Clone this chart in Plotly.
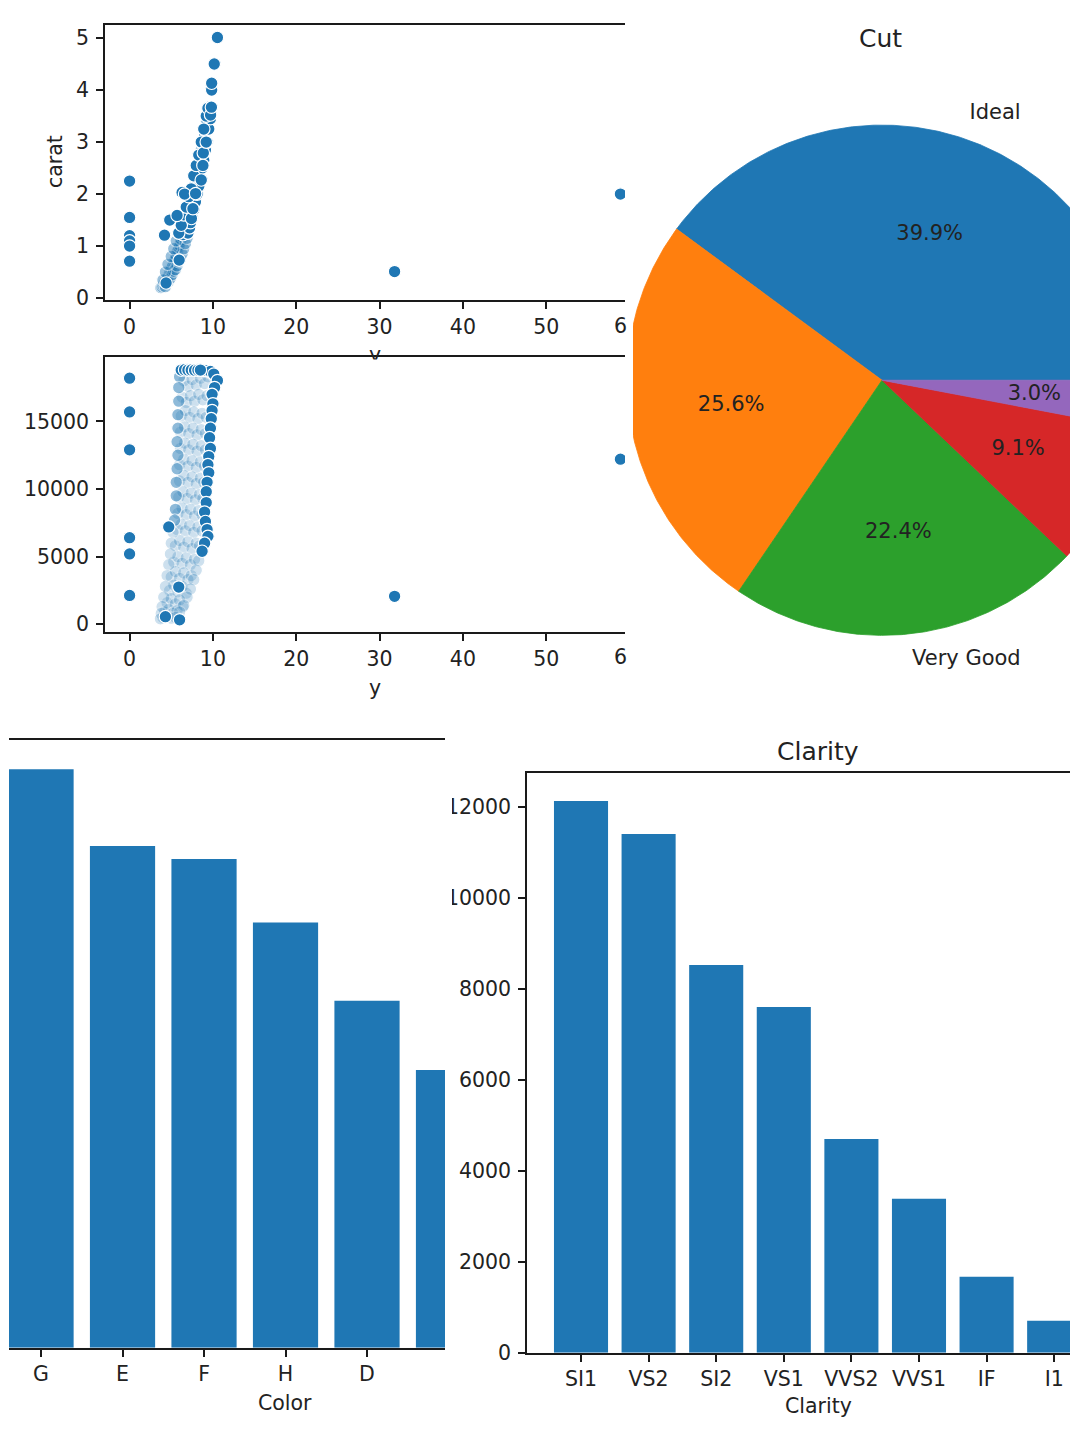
import math
import plotly.graph_objects as go

W, H = 1080, 1440
S = 1.009  # vertical calibration so reference pixel rows land where intended

# ---------------- data ----------------
# scatter 1: y (mm) vs carat -- dense part of the cloud
carat_core_x = [3.75, 3.9, 4.0, 4.1, 4.2, 4.3, 4.4, 4.5, 4.6, 4.7, 4.8, 4.9, 5.0, 5.1, 5.2, 5.3, 5.4, 5.5,
                5.6, 5.7, 5.8, 5.9, 6.0, 6.1, 6.2, 6.3,
                4.3, 4.6, 4.9, 5.1, 5.3, 5.5, 5.7, 5.9, 6.1, 6.3, 6.5, 6.7, 6.9,
                4.0, 4.3, 4.6, 5.0, 5.3, 5.6]
carat_core_v = [0.20, 0.22, 0.25, 0.28, 0.30, 0.32, 0.35, 0.38, 0.41, 0.45, 0.50, 0.53, 0.56, 0.60, 0.64, 0.70,
                0.73, 0.76, 0.82, 0.88, 0.92, 0.98, 1.02, 1.08, 1.12, 1.18,
                0.22, 0.30, 0.38, 0.45, 0.52, 0.55, 0.62, 0.70, 0.75, 0.85, 0.95, 1.05, 1.15,
                0.35, 0.50, 0.65, 0.80, 0.95, 1.10]
# scatter 1: sparser / outlying points
carat_edge_x = [6.4, 6.5, 6.6, 6.7, 6.8, 6.9, 7.0, 7.1, 7.2, 7.3, 7.4, 7.5, 7.6, 7.7, 7.8, 7.9, 8.0, 8.1,
                8.2, 8.3, 8.4, 8.5, 8.6, 8.7, 8.8, 8.9, 9.0, 9.1, 9.2, 9.3, 9.4, 9.5, 9.6,
                7.0, 7.2, 7.3, 7.5, 7.7, 7.9, 8.1, 8.3, 8.5, 8.7, 8.9, 9.1, 9.3, 9.5, 9.7,
                5.9, 6.2, 6.5, 6.8, 7.1, 7.4, 7.7, 8.0, 8.3, 8.6, 8.9, 9.2, 9.4,
                0, 0, 0, 0, 0, 0,
                4.19, 4.82, 5.7, 6.3, 6.6, 7.92, 7.42, 7.6, 8.6, 8.8, 8.85, 9.2, 9.72, 9.82, 9.85, 9.85,
                10.16, 10.54, 4.38, 5.95, 31.8, 58.9]
carat_edge_v = [1.22, 1.28, 1.35, 1.40, 1.48, 1.52, 1.58, 1.65, 1.72, 1.80, 1.85, 1.92, 2.00, 2.08, 2.15, 2.22,
                2.30, 2.38, 2.45, 2.52, 2.62, 2.70, 2.78, 2.88, 2.95, 3.05, 3.15, 3.22, 3.30, 3.40, 3.50, 3.60, 3.68,
                1.25, 1.35, 1.45, 1.55, 1.70, 1.85, 2.00, 2.15, 2.30, 2.50, 2.65, 2.85, 3.00, 3.25, 3.45,
                1.25, 1.40, 1.60, 1.75, 1.95, 2.10, 2.35, 2.55, 2.75, 3.00, 3.25, 3.50, 3.65,
                2.25, 1.55, 1.2, 1.1, 1.0, 0.71,
                1.21, 1.50, 1.59, 2.03, 2.00, 2.01, 1.53, 1.72, 2.27, 2.55, 2.79, 3.00, 3.52, 3.67, 4.00, 4.13,
                4.50, 5.01, 0.29, 0.73, 0.51, 2.00]

# scatter 2: y (mm) vs price -- dense part of the cloud
price_core_x = [6.5, 7.0, 7.5, 8.0, 8.5, 9.0, 9.4,
                6.3, 6.8, 7.3, 7.8, 8.3, 8.8, 9.3,
                6.2, 6.7, 7.2, 7.7, 8.2, 8.7, 9.2,
                6.1, 6.6, 7.1, 7.6, 8.1, 8.6, 9.1,
                6.1, 6.6, 7.1, 7.6, 8.1, 8.6, 9.1,
                6.0, 6.5, 7.0, 7.5, 8.0, 8.5, 9.0,
                6.0, 6.5, 7.0, 7.5, 8.0, 8.5, 8.9,
                5.9, 6.4, 6.9, 7.4, 7.9, 8.4, 8.8,
                5.8, 6.3, 6.8, 7.3, 7.8, 8.3, 8.7,
                5.7, 6.2, 6.7, 7.2, 7.7, 8.2, 8.7,
                5.5, 6.0, 6.5, 7.0, 7.5, 8.0, 8.4,
                5.3, 5.8, 6.3, 6.8, 7.3, 7.8,
                5.0, 5.5, 6.0, 6.5, 7.0, 7.4,
                4.8, 5.3, 5.8, 6.3, 6.8,
                4.5, 5.0, 5.5, 6.0, 6.4,
                4.2, 4.7, 5.2, 5.7,
                4.0, 4.5, 5.0,
                5.2, 5.0, 4.9, 4.7, 4.5, 4.3, 4.1, 3.9, 3.8, 3.7,
                8.3, 8.0, 7.7, 7.3, 6.9, 6.5, 6.0, 5.5]
price_core_v = [18000, 17600, 18100, 17700, 18200, 17800, 18300,
                16800, 16400, 16900, 16500, 17000, 16600, 16900,
                15400, 15800, 15300, 15700, 15200, 15600, 15300,
                14200, 14600, 14100, 14500, 14000, 14400, 14100,
                13000, 13400, 12900, 13300, 12800, 13200, 12900,
                11800, 12200, 11700, 12100, 11600, 12000, 11700,
                10600, 11000, 10500, 10900, 10400, 10800, 10500,
                9400, 9800, 9300, 9700, 9200, 9600, 9300,
                8200, 8600, 8100, 8500, 8000, 8400, 8100,
                7000, 7400, 6900, 7300, 6800, 7200, 6900,
                5800, 6200, 5700, 6100, 5600, 6000, 5800,
                4600, 5000, 4500, 4900, 4400, 4800,
                3500, 3900, 3400, 3800, 3300, 3600,
                2500, 2900, 2400, 2800, 2300,
                1600, 1900, 1500, 1800, 1300,
                900, 1100, 800, 1000,
                500, 600, 450,
                6800, 6000, 5200, 4400, 3600, 2800, 2000, 1300, 800, 400,
                4700, 4000, 3300, 2600, 2000, 1400, 900, 500]
# scatter 2: left outline of the cloud (partly overdrawn in the original)
price_left_x = [6.0, 5.9, 5.9, 5.8, 5.8, 5.7, 5.8, 5.7, 5.6, 5.6, 5.5, 5.4]
price_left_v = [18300, 17500, 16500, 15500, 14500, 13500, 12500, 11500, 10500, 9500, 8500, 7700]
# scatter 2: top / right outline and outlying points
price_edge_x = [6.2, 6.6, 7.0, 7.4, 7.8, 8.2, 8.9, 9.3, 9.7, 10.1, 10.54,
                10.2, 9.9, 10.0, 9.9, 9.8, 9.7, 9.6, 9.7, 9.5, 9.4, 9.5, 9.3, 9.2, 9.2, 9.0, 9.1, 9.3, 9.4,
                9.0, 8.7,
                0, 0, 0, 0, 0, 0, 31.8, 58.9, 4.3, 6.0, 5.9, 4.7, 8.5]
price_edge_v = [18800, 18820, 18800, 18810, 18790, 18800, 18780, 18760, 18700, 18500, 18020,
                17500, 17000, 16300, 15800, 15200, 14500, 13800, 13000, 12400, 11800, 11200, 10500, 9800,
                9000, 8300, 7600, 7000, 6500, 6000, 5400,
                18200, 15700, 12900, 6400, 5200, 2130, 2070, 12210, 560, 330, 2750, 7200, 18800]

cut_labels = ["Ideal", "Premium", "Very Good", "Good", "Fair"]
cut_counts = [20000, 12830, 11230, 4560, 1500]
cut_colors = ["#1f77b4", "#ff7f0e", "#2ca02c", "#d62728", "#9467bd"]

color_cats = ["G", "E", "F", "H", "D", "I"]
color_counts = [10494, 9105, 8868, 7717, 6296, 5039]

clarity_cats = ["SI1", "VS2", "SI2", "VS1", "VVS2", "VVS1", "IF", "I1"]
clarity_counts = [12132, 11407, 8527, 7604, 4703, 3385, 1670, 703]

scatter_ticks_x = [0, 10, 20, 30, 40, 50]
carat_ticks = [0, 1, 2, 3, 4, 5]
price_ticks = [0, 5000, 10000, 15000]
clarity_ticks = [0, 2000, 4000, 6000, 8000, 10000, 12000]

# ---------------- helpers ----------------
BLUE = "#1f77b4"
INK = "#222222"
LINE = "#1a1a1a"
FONT = "DejaVu Sans"
TICK = 20.5


def fx(p):
    return p / W


def fy(p):
    return 1 - p * S / H


axis_style = dict(showline=True, linecolor=LINE, linewidth=1.5, ticks="outside", ticklen=7,
                  tickwidth=1.5, tickcolor=LINE, showgrid=False, zeroline=False,
                  tickfont=dict(family=FONT, size=TICK, color=INK), tickformat="d")

fig = go.Figure()

# scatter panels (dense part lighter, as heavy overplotting looks in the original)
CORE_ALPHA_C, CORE_ALPHA_P, LEFT_ALPHA_P = 0.45, 0.22, 0.5
cx_all = carat_core_x + carat_edge_x
cv_all = carat_core_v + carat_edge_v
c_op = [CORE_ALPHA_C] * len(carat_core_x) + [1.0] * len(carat_edge_x)
px_all = price_core_x + price_left_x + price_edge_x
pv_all = price_core_v + price_left_v + price_edge_v
p_op = ([CORE_ALPHA_P] * len(price_core_x) + [LEFT_ALPHA_P] * len(price_left_x)
        + [1.0] * len(price_edge_x))

fig.add_trace(go.Scatter(x=cx_all, y=cv_all, mode="markers",
                         marker=dict(size=12.5, color=BLUE, opacity=c_op, line=dict(color="white", width=1.2)),
                         xaxis="x", yaxis="y", showlegend=False, hoverinfo="skip"))
fig.add_trace(go.Scatter(x=px_all, y=pv_all, mode="markers",
                         marker=dict(size=12.5, color=BLUE, opacity=p_op, line=dict(color="white", width=1.2)),
                         xaxis="x2", yaxis="y2", showlegend=False, hoverinfo="skip"))

# pie (slices drawn in a clipped subplot so the crop of the original is kept)
cx, cy, R = 882, 380, 255
PIE_L, PIE_R, PIE_T, PIE_B = 633, 1070, 85, 685
xr = [(PIE_L - cx) / R, (PIE_R - cx) / R]
yr = [-(PIE_B - cy) / R, (cy - PIE_T) / R]

total = sum(cut_counts)
start = 0.0
mids = []
for lab, cnt, col in zip(cut_labels, cut_counts, cut_colors):
    span = 360.0 * cnt / total
    n = max(3, int(span * 2))
    xs, ys = [0.0], [0.0]
    for k in range(n + 1):
        a = math.radians(start + span * k / n)
        xs.append(math.cos(a))
        ys.append(math.sin(a))
    xs.append(0.0)
    ys.append(0.0)
    fig.add_trace(go.Scatter(x=xs, y=ys, mode="lines", fill="toself", fillcolor=col,
                             line=dict(color=col, width=0.8), name=lab,
                             xaxis="x3", yaxis="y3", showlegend=False, hoverinfo="skip"))
    mids.append(math.radians(start + span / 2))
    start += span

pct_text = ["%.1f%%" % (100.0 * c / total) for c in cut_counts]
fig.add_trace(go.Scatter(x=[0.6 * math.cos(m) for m in mids], y=[0.6 * math.sin(m) for m in mids],
                         mode="text", text=pct_text, textposition="middle center",
                         textfont=dict(family=FONT, size=21, color=INK), cliponaxis=True,
                         xaxis="x3", yaxis="y3", showlegend=False, hoverinfo="skip"))

lab_x = [1.1 * math.cos(m) for m in mids]
lab_y = [1.1 * math.sin(m) for m in mids]
lab_txt = [t if (xr[0] <= x <= xr[1] and yr[0] <= y <= yr[1]) else ""
           for t, x, y in zip(cut_labels, lab_x, lab_y)]
fig.add_trace(go.Scatter(x=lab_x, y=lab_y, mode="text", text=lab_txt,
                         textposition=["middle right" if x > 0 else "middle left" for x in lab_x],
                         textfont=dict(family=FONT, size=21, color=INK), cliponaxis=False,
                         xaxis="x3", yaxis="y3", showlegend=False, hoverinfo="skip"))

# bar panels
fig.add_trace(go.Bar(x=color_cats, y=color_counts, width=0.8, marker=dict(color=BLUE, line=dict(width=0)),
                     xaxis="x4", yaxis="y4", showlegend=False, hoverinfo="skip"))
fig.add_trace(go.Bar(x=clarity_cats, y=clarity_counts, width=0.8, marker=dict(color=BLUE, line=dict(width=0)),
                     xaxis="x5", yaxis="y5", showlegend=False, hoverinfo="skip"))

# ---------------- layout ----------------
layout = dict(
    width=W, height=H, autosize=False, margin=dict(l=0, r=0, t=0, b=0),
    paper_bgcolor="white", plot_bgcolor="white", showlegend=False,
    font=dict(family=FONT, color=INK),
    xaxis=dict(axis_style, domain=[fx(105), fx(625)], anchor="y", range=[-2.95, 59.45],
               tickvals=scatter_ticks_x, mirror=True),
    yaxis=dict(axis_style, domain=[fy(300), fy(25)], anchor="x", range=[-0.04, 5.25],
               tickvals=carat_ticks, ticklabelstandoff=3),
    xaxis2=dict(axis_style, domain=[fx(105), fx(625)], anchor="y2", range=[-2.95, 59.45],
                tickvals=scatter_ticks_x, mirror=True),
    yaxis2=dict(axis_style, domain=[fy(632), fy(357)], anchor="x2", range=[-599, 19748],
                tickvals=price_ticks, ticklabelstandoff=3),
    xaxis3=dict(domain=[fx(PIE_L), fx(PIE_R)], anchor="y3", visible=False, range=xr),
    yaxis3=dict(domain=[fy(PIE_B), fy(PIE_T)], anchor="x3", visible=False, range=yr),
    xaxis4=dict(axis_style, domain=[fx(9), fx(445)], anchor="y4", type="category",
                categoryorder="array", categoryarray=color_cats, range=[-0.393, 4.957], mirror=True),
    yaxis4=dict(domain=[fy(1347), fy(740)], anchor="x4", visible=False,
                range=[0, max(color_counts) * 1.05]),
    xaxis5=dict(axis_style, domain=[fx(527), fx(1070)], anchor="y5", type="category",
                categoryorder="array", categoryarray=clarity_cats, range=[-0.799, 7.234], mirror=True),
    yaxis5=dict(axis_style, domain=[fy(1352), fy(773)], anchor="x5",
                range=[0, max(clarity_counts) * 1.05], tickvals=clarity_ticks, ticklabelstandoff=3),
    bargap=0.2,
)
fig.update_layout(**layout)


def ann(text, x, y, size=TICK, angle=0, xanchor="center", yanchor="middle", **kw):
    d = dict(text=text, x=fx(x), y=fy(y), xref="paper", yref="paper", showarrow=False,
             font=dict(family=FONT, size=size, color=INK), textangle=angle,
             xanchor=xanchor, yanchor=yanchor)
    d.update(kw)
    return d


annotations = [
    ann("carat", 55, 162, angle=-90),
    ann("y", 375, 355),
    # white patch hiding the lower part of the cropped "y" label
    dict(text=" ", x=fx(375), y=fy(358.5), xref="paper", yref="paper", showarrow=False,
         xanchor="center", yanchor="top", width=30, height=24, bgcolor="white",
         borderpad=0, font=dict(size=10)),
    ann("y", 375, 688),
    ann("6", 628, 326, xanchor="right", borderpad=0),
    ann("6", 628, 657, xanchor="right", borderpad=0),
    ann("Cut", 880, 38, size=25),
    ann("Color", 285, 1402),
    ann("Clarity", 818, 751, size=25),
    ann("Clarity", 818, 1405),
]
fig.update_layout(annotations=annotations)

# crop edge of the clarity panel's tick labels
fig.add_shape(type="rect", xref="paper", yref="paper", x0=fx(446), x1=fx(452), y0=fy(915), y1=fy(775),
              fillcolor="white", line=dict(width=0), layer="above")

fig.write_html("out.html")
